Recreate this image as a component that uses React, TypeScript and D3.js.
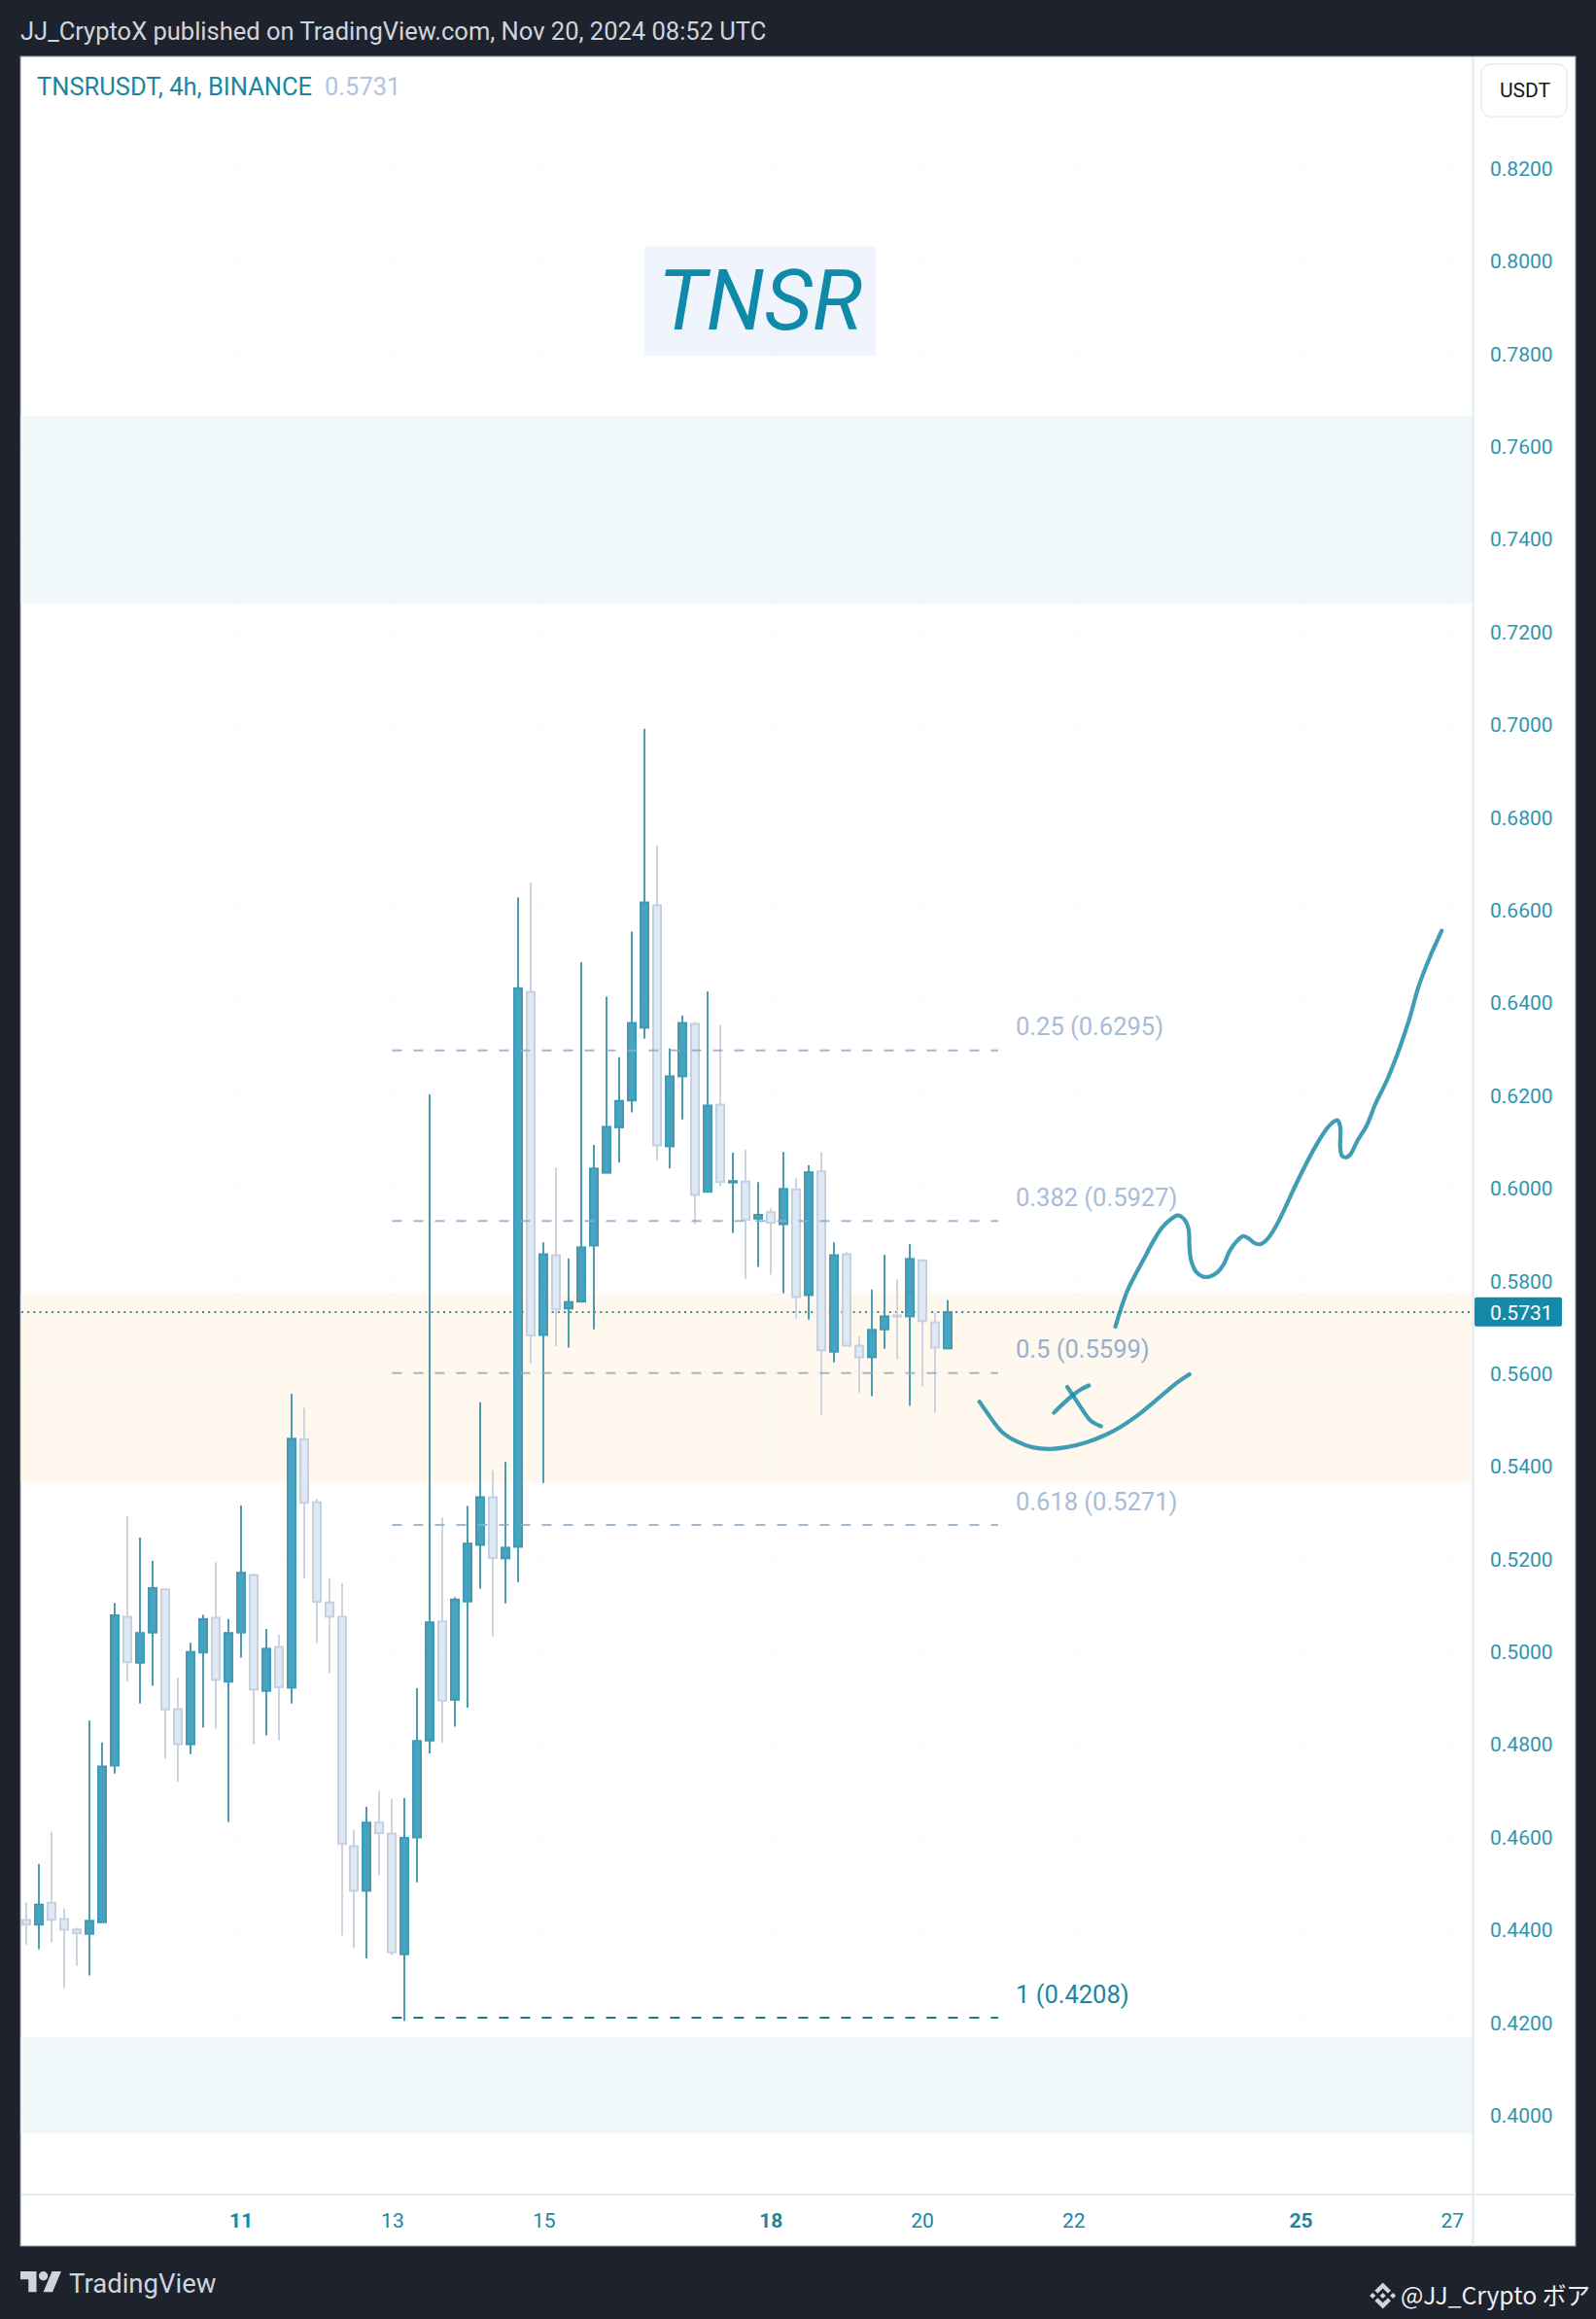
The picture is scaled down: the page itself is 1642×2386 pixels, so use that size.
import { useEffect, useRef } from 'react'
import * as d3 from 'd3'

const WIDTH = 1642
const HEIGHT = 2386

// 4h candles
const opens = [
  0.4419, 0.4409, 0.4456, 0.4421, 0.4398, 0.4389, 0.4414, 0.4752, 0.5073, 0.4974,
  0.5039, 0.5132, 0.4874, 0.4798, 0.4996, 0.5071, 0.4933, 0.5039, 0.5163, 0.4913,
  0.5008, 0.492, 0.5456, 0.532, 0.5104, 0.5073, 0.4578, 0.4482, 0.4629, 0.4605,
  0.4345, 0.4597, 0.4806, 0.5063, 0.4894, 0.5106, 0.5228, 0.5331, 0.5199, 0.5224,
  0.6421, 0.5681, 0.5853, 0.5738, 0.5753, 0.5874, 0.6031, 0.6129, 0.6187, 0.6344,
  0.6608, 0.6088, 0.6239, 0.6352, 0.599, 0.6178, 0.601, 0.6012, 0.5932, 0.5946,
  0.592, 0.5995, 0.5767, 0.6034, 0.5645, 0.5855, 0.5658, 0.5633, 0.5693, 0.5723,
  0.5721, 0.5842, 0.5708, 0.5652,
]
const highs = [
  0.4457, 0.454, 0.4609, 0.4444, 0.4402, 0.4849, 0.4802, 0.5103, 0.529, 0.5244,
  0.5194, 0.5132, 0.4942, 0.5017, 0.5077, 0.5191, 0.5068, 0.5313, 0.5166, 0.5047,
  0.5034, 0.5554, 0.5524, 0.5327, 0.5157, 0.5145, 0.4613, 0.4663, 0.4697, 0.468,
  0.4682, 0.4919, 0.62, 0.5287, 0.5115, 0.5312, 0.5536, 0.5389, 0.5407, 0.6625,
  0.6657, 0.5881, 0.6042, 0.5846, 0.6485, 0.6091, 0.6411, 0.628, 0.6551, 0.6989,
  0.6737, 0.6299, 0.637, 0.6356, 0.6422, 0.6349, 0.6074, 0.608, 0.6011, 0.5954,
  0.6076, 0.6019, 0.6047, 0.6076, 0.5881, 0.586, 0.5679, 0.5779, 0.5854, 0.58,
  0.5877, 0.5842, 0.5729, 0.5756,
]
const lows = [
  0.4366, 0.4356, 0.437, 0.4272, 0.432, 0.4299, 0.4414, 0.4735, 0.4933, 0.4886,
  0.4924, 0.4767, 0.4717, 0.4777, 0.4834, 0.4832, 0.463, 0.4985, 0.4798, 0.4817,
  0.4806, 0.4886, 0.5155, 0.5016, 0.4952, 0.4385, 0.4358, 0.4336, 0.4515, 0.4343,
  0.4201, 0.45, 0.4778, 0.4802, 0.4836, 0.4877, 0.5134, 0.5031, 0.5102, 0.5148,
  0.5619, 0.5362, 0.5657, 0.5654, 0.5752, 0.5693, 0.6031, 0.6053, 0.6161, 0.632,
  0.6058, 0.604, 0.6146, 0.592, 0.5989, 0.6002, 0.5901, 0.5802, 0.5828, 0.5811,
  0.5771, 0.5716, 0.5714, 0.5507, 0.5622, 0.5658, 0.5557, 0.5549, 0.5651, 0.5628,
  0.5528, 0.557, 0.5513, 0.5652,
]
const closes = [
  0.4409, 0.4452, 0.4419, 0.4398, 0.439, 0.4417, 0.475, 0.5076, 0.4975, 0.5038,
  0.5135, 0.4873, 0.4798, 0.4997, 0.5068, 0.4937, 0.5038, 0.5168, 0.4916, 0.5004,
  0.4921, 0.5457, 0.5319, 0.5105, 0.5073, 0.4583, 0.4482, 0.4629, 0.4606, 0.4349,
  0.4596, 0.4805, 0.5061, 0.4892, 0.511, 0.5231, 0.5331, 0.52, 0.5222, 0.6429,
  0.568, 0.5855, 0.5736, 0.5752, 0.587, 0.604, 0.613, 0.6186, 0.6354, 0.6614,
  0.609, 0.6239, 0.6354, 0.5983, 0.6176, 0.6011, 0.6013, 0.5929, 0.594, 0.5923,
  0.5996, 0.5763, 0.6032, 0.5648, 0.5853, 0.5658, 0.5633, 0.5692, 0.5721, 0.5721,
  0.5845, 0.5711, 0.5654, 0.573,
]

const lastPrice = 0.5731

const priceTicks = [
  0.82, 0.8, 0.78, 0.76, 0.74, 0.72, 0.7, 0.68, 0.66, 0.64, 0.62, 0.6, 0.58, 0.56, 0.54, 0.52,
  0.5, 0.48, 0.46, 0.44, 0.42, 0.4,
]
const dayBars = [17, 29, 41, 59, 71, 83, 101, 113]
const dayLabels = ['11', '13', '15', '18', '20', '22', '25', '27']
const boldDays = ['11', '18', '25']

// shaded zones [top, bottom]
const blueZones = [
  [0.7664, 0.7259],
  [0.4165, 0.3958],
]
const orangeZone = [0.5771, 0.5363]

const fibLevels = [0.6295, 0.5927, 0.5599, 0.5271, 0.4208]
const fibLabels = ['0.25 (0.6295)', '0.382 (0.5927)', '0.5 (0.5599)', '0.618 (0.5271)', '1 (0.4208)']
const fibLabelColors = ['#a9bcd7', '#a9bcd7', '#98afcc', '#a9bcd7', '#1a86a1']
const fibStartBar = 29
const fibEndBar = 77.04

// hand drawn brush strokes: bar position and price
const pathBars = [
  86.33, 86.76, 87.29, 87.95, 88.61, 89.14, 89.41, 90.07, 90.74, 91.32, 91.8, 92.12, 92.2, 92.33,
  92.73, 93.26, 93.79, 94.45, 94.93, 95.38, 95.91, 96.45, 96.84, 97.38, 97.85, 98.44, 99.1, 99.76,
  100.43, 101.22, 102.15, 103.08, 103.48, 103.93, 104.15, 104.15, 104.28, 104.6, 104.94, 105.47,
  106.27, 106.93, 107.86, 108.79, 109.59, 110.39, 111.31, 111.84, 112.19,
]
const pathPrices = [
  0.5699, 0.5737, 0.5777, 0.5813, 0.5846, 0.5874, 0.5887, 0.5914, 0.5931, 0.5939, 0.593, 0.591,
  0.587, 0.5842, 0.5817, 0.5807, 0.5807, 0.5817, 0.5834, 0.5862, 0.5882, 0.5894, 0.589, 0.5879,
  0.5877, 0.589, 0.5918, 0.5954, 0.5994, 0.6038, 0.6086, 0.6126, 0.6138, 0.6144, 0.613, 0.6086,
  0.6068, 0.6064, 0.607, 0.6098, 0.6134, 0.6179, 0.6231, 0.6295, 0.6359, 0.6435, 0.65, 0.6532,
  0.6553,
]
const bowlBars = [75.55, 76.27, 77.33, 78.52, 79.85, 81.18, 82.51, 84.1, 85.43, 86.76, 88.35, 89.94, 91.27, 92.2]
const bowlPrices = [0.5537, 0.5509, 0.5472, 0.5451, 0.5438, 0.5435, 0.5439, 0.545, 0.5464, 0.5483, 0.5513, 0.5549, 0.5579, 0.5596]
const crossABars = [81.45, 82.24, 82.91, 83.57, 84.23]
const crossAPrices = [0.5513, 0.5534, 0.555, 0.5563, 0.5572]
const crossBBars = [82.51, 83.17, 83.83, 84.37, 85.19]
const crossBPrices = [0.5569, 0.5542, 0.5515, 0.5496, 0.5484]

const TEAL = '#1a86a1'
const FONT = 'Roboto, sans-serif'

export default function App() {
  const svgRef = useRef<SVGSVGElement>(null)

  useEffect(() => {
    if (!svgRef.current) return
    const svg = d3.select(svgRef.current)
    svg.selectAll('*').remove()

    const plot = { left: 21, right: 1515.5, top: 58, bottom: 2258 }
    const panel = { left: 21, right: 1621, top: 58, bottom: 2311 }

    const x = d3.scaleLinear().domain([0, 113]).range([27, 27 + 113 * 12.98])
    const y = d3.scaleLinear().domain([0.4208, 0.6295]).range([2076, 1080.7])

    // page + panel
    svg.append('rect').attr('width', WIDTH).attr('height', HEIGHT).attr('fill', '#1e222d')
    svg
      .append('rect')
      .attr('x', panel.left)
      .attr('y', panel.top)
      .attr('width', panel.right - panel.left)
      .attr('height', panel.bottom - panel.top)
      .attr('fill', '#ffffff')
      .attr('stroke', '#8b8f99')
      .attr('stroke-width', 1)

    // Zones
    blueZones.forEach(([top, bottom]) => {
      svg
        .append('rect')
        .attr('x', plot.left + 0.5)
        .attr('y', y(top))
        .attr('width', plot.right - plot.left - 0.5)
        .attr('height', y(bottom) - y(top))
        .attr('fill', '#f0f8fa')
    })
    svg
      .append('rect')
      .attr('x', plot.left + 0.5)
      .attr('y', y(orangeZone[0]))
      .attr('width', plot.right - plot.left - 0.5)
      .attr('height', y(orangeZone[1]) - y(orangeZone[0]))
      .attr('fill', '#fef8ef')

    // Grid
    svg
      .append('g')
      .selectAll('line')
      .data(priceTicks)
      .enter()
      .append('line')
      .attr('x1', plot.left + 1)
      .attr('x2', plot.right)
      .attr('y1', (d) => y(d))
      .attr('y2', (d) => y(d))
      .attr('stroke', '#2a5a7a')
      .attr('stroke-opacity', 0.025)
    svg
      .append('g')
      .selectAll('line')
      .data(dayBars)
      .enter()
      .append('line')
      .attr('x1', (d) => x(d))
      .attr('x2', (d) => x(d))
      .attr('y1', plot.top + 1)
      .attr('y2', plot.bottom - 4)
      .attr('stroke', '#2a5a7a')
      .attr('stroke-opacity', 0.025)

    // Last price dotted line
    const lastY = Math.round(y(lastPrice))
    svg
      .append('line')
      .attr('x1', plot.left + 1)
      .attr('x2', plot.right)
      .attr('y1', lastY)
      .attr('y2', lastY)
      .attr('stroke', '#3b8a96')
      .attr('stroke-width', 2)
      .attr('stroke-dasharray', '2 4.2')

    // Candles
    const candles = opens.map((open, i) => ({
      i,
      open,
      high: highs[i],
      low: lows[i],
      close: closes[i],
      up: closes[i] >= open,
    }))
    const cx = (i: number) => Math.round(x(i))

    svg
      .append('g')
      .selectAll('line')
      .data(candles)
      .enter()
      .append('line')
      .attr('x1', (d) => cx(d.i))
      .attr('x2', (d) => cx(d.i))
      .attr('y1', (d) => y(d.high))
      .attr('y2', (d) => y(d.low))
      .attr('stroke', (d) => (d.up ? '#4d9bb0' : '#cfd3dd'))
      .attr('stroke-width', 2)

    svg
      .append('g')
      .selectAll('rect')
      .data(candles)
      .enter()
      .append('rect')
      .attr('x', (d) => cx(d.i) - 4)
      .attr('width', 8)
      .attr('y', (d) => y(Math.max(d.open, d.close)))
      .attr('height', (d) => Math.max(1, Math.abs(y(d.open) - y(d.close))))
      .attr('fill', (d) => (d.up ? '#47a3bf' : '#dfe8f5'))
      .attr('stroke', (d) => (d.up ? '#3f9ab5' : '#c6d1e0'))
      .attr('stroke-width', 2)

    // Fib levels
    const fibRows = fibLevels.map((level, i) => ({
      level,
      label: fibLabels[i],
      color: fibLabelColors[i],
      last: i === fibLevels.length - 1,
    }))
    svg
      .append('g')
      .selectAll('line')
      .data(fibRows)
      .enter()
      .append('line')
      .attr('x1', x(fibStartBar))
      .attr('x2', x(fibEndBar))
      .attr('y1', (d) => y(d.level))
      .attr('y2', (d) => y(d.level))
      .attr('stroke', (d) => (d.last ? '#1d7a8c' : '#8fabca'))
      .attr('stroke-opacity', (d) => (d.last ? 1 : 0.85))
      .attr('stroke-width', 2)
      .attr('stroke-dasharray', '10 12')
    svg
      .append('g')
      .selectAll('text')
      .data(fibRows)
      .enter()
      .append('text')
      .attr('x', 1045)
      .attr('y', (d) => y(d.level) - 15.5)
      .attr('fill', (d) => d.color)
      .style('font-family', FONT)
      .style('font-size', '25.5px')
      .text((d) => d.label)

    // Brush strokes
    const line = d3
      .line<[number, number]>()
      .x((d) => x(d[0]))
      .y((d) => y(d[1]))
      .curve(d3.curveCatmullRom)
    const strokes = [
      [pathBars, pathPrices],
      [bowlBars, bowlPrices],
      [crossABars, crossAPrices],
      [crossBBars, crossBPrices],
    ]
    strokes.forEach(([bars, prices]) => {
      svg
        .append('path')
        .datum(bars.map((b, i) => [b, prices[i]] as [number, number]))
        .attr('fill', 'none')
        .attr('stroke', '#1f8ca8')
        .attr('stroke-opacity', 0.85)
        .attr('stroke-width', 4.2)
        .attr('stroke-linecap', 'round')
        .attr('stroke-linejoin', 'round')
        .attr('d', line)
    })

    // Axis frame lines
    svg
      .append('line')
      .attr('x1', plot.right)
      .attr('x2', plot.right)
      .attr('y1', panel.top + 1)
      .attr('y2', panel.bottom)
      .attr('stroke', '#e0ebef')
      .attr('stroke-width', 2)
    svg
      .append('line')
      .attr('x1', panel.left + 1)
      .attr('x2', panel.right)
      .attr('y1', plot.bottom)
      .attr('y2', plot.bottom)
      .attr('stroke', '#e3edf0')
      .attr('stroke-width', 2)

    // Price axis
    const priceAxis = svg
      .append('g')
      .attr('transform', 'translate(1533,1.5)')
      .call(d3.axisRight(y).tickValues(priceTicks).tickFormat(d3.format('.4f')).tickSize(0).tickPadding(0))
    priceAxis.select('.domain').remove()
    priceAxis
      .selectAll('text')
      .attr('fill', '#2f95af')
      .style('font-family', FONT)
      .style('font-size', '21px')

    // Time axis
    const timeAxis = svg
      .append('g')
      .attr('transform', 'translate(0,2284)')
      .call(
        d3
          .axisBottom(x)
          .tickValues(dayBars)
          .tickFormat((_, i) => dayLabels[i])
          .tickSize(0)
          .tickPadding(0),
      )
    timeAxis.select('.domain').remove()
    timeAxis
      .selectAll('text')
      .attr('y', 0)
      .attr('dy', '0.36em')
      .attr('fill', TEAL)
      .style('font-family', FONT)
      .style('font-size', '21px')
      .style('font-weight', (_, i) => (boldDays.includes(dayLabels[i]) ? 700 : 400))

    // Last price tag
    svg.append('rect').attr('x', 1517).attr('y', y(lastPrice) - 15).attr('width', 90).attr('height', 30).attr('rx', 2).attr('fill', '#158aa8')
    svg
      .append('text')
      .attr('x', 1533)
      .attr('y', y(lastPrice) + 0.5)
      .attr('dy', '0.35em')
      .attr('fill', '#ffffff')
      .style('font-family', FONT)
      .style('font-size', '21px')
      .text(lastPrice.toFixed(4))

    // USDT button
    svg.append('rect').attr('x', 1524).attr('y', 66).attr('width', 88).attr('height', 54).attr('rx', 10).attr('fill', '#ffffff').attr('stroke', '#e9edf1').attr('stroke-width', 1.5)
    svg.append('text').attr('x', 1569).attr('y', 100).attr('text-anchor', 'middle').attr('fill', '#131722').style('font-family', FONT).style('font-size', '21px').text('USDT')

    // Legend
    svg.append('text').attr('x', 38).attr('y', 97.5).attr('fill', TEAL).style('font-family', FONT).style('font-size', '25.5px').text('TNSRUSDT, 4h, BINANCE')
    svg.append('text').attr('x', 334).attr('y', 97.5).attr('fill', '#b2c4dc').style('font-family', FONT).style('font-size', '25.5px').text(lastPrice.toFixed(4))

    // Title note
    svg.append('rect').attr('x', 662.7).attr('y', 253.3).attr('width', 238.3).attr('height', 112.7).attr('fill', '#f0f5fd')
    svg
      .append('text')
      .attr('x', 782)
      .attr('y', 338.7)
      .attr('text-anchor', 'middle')
      .attr('fill', '#0f8aa8')
      .style('font-family', FONT)
      .style('font-style', 'italic')
      .style('font-size', '86px')
      .text('TNSR')

    // Header and footer
    svg
      .append('text')
      .attr('x', 21)
      .attr('y', 40.5)
      .attr('fill', '#d1d4dc')
      .style('font-family', FONT)
      .style('font-size', '25.5px')
      .text('JJ_CryptoX published on TradingView.com, Nov 20, 2024 08:52 UTC')

    const logo = svg.append('g').attr('transform', 'translate(21,2332.3) scale(1.18)').attr('fill', '#d1d4dc')
    logo.append('path').attr('d', 'M14 22H7V11H0V4h14v18zM28 22h-8l7.5-18h8L28 22z')
    logo.append('circle').attr('cx', 20).attr('cy', 8).attr('r', 4)
    svg.append('text').attr('x', 71).attr('y', 2358.7).attr('fill', '#d1d4dc').style('font-family', FONT).style('font-size', '27.5px').text('TradingView')

    const bnb = svg.append('g').attr('transform', 'translate(1409.2,2348.5) scale(0.213)').attr('fill', '#d1d4dc')
    bnb.append('path').attr('d', 'M38.73 53.2l24.59-24.58 24.6 24.6 14.3-14.31L63.32 0 24.43 38.9z')
    bnb.append('path').attr('d', 'M0 63.31l14.3-14.31 14.31 14.31-14.31 14.3z')
    bnb.append('path').attr('d', 'M38.73 73.41L63.32 97.99l24.6-24.6 14.31 14.29-38.9 38.91-38.91-38.88z')
    bnb.append('path').attr('d', 'M97.99 63.31l14.3-14.31 14.32 14.31-14.31 14.3z')
    bnb.append('path').attr('d', 'M77.83 63.3L63.32 48.78 52.59 59.51l-1.24 1.23-2.54 2.54 14.51 14.5 14.51-14.47z')
    svg
      .append('text')
      .attr('x', 1441)
      .attr('y', 2370.7)
      .attr('fill', '#eceef2')
      .style('font-family', '"Noto Sans CJK JP", "Noto Sans", sans-serif')
      .style('font-size', '24.7px')
      .text('@JJ_Crypto ボア')
  }, [])

  return (
    <>
      <style>{'body{margin:0}'}</style>
      <svg ref={svgRef} width={WIDTH} height={HEIGHT} style={{ display: 'block' }} />
    </>
  )
}
